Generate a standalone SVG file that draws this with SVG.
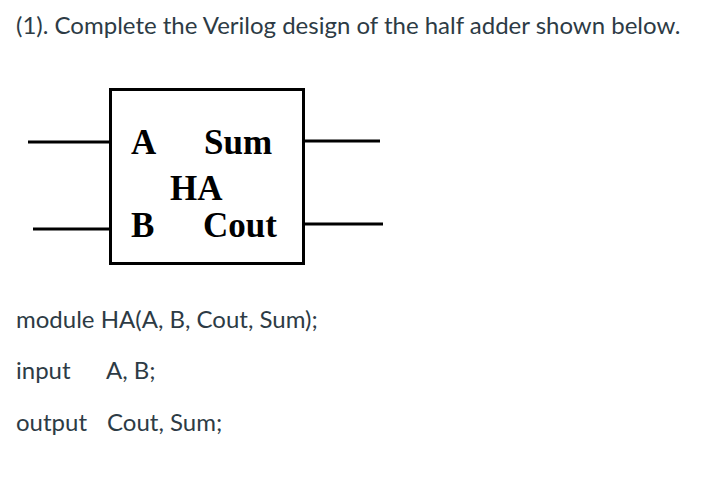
<svg xmlns="http://www.w3.org/2000/svg" width="727" height="498" viewBox="0 0 727 498">
<style>
.t{font-family:Lato,"Liberation Sans",sans-serif;font-size:24px;fill:#2d3b45}
.s{font-family:"Liberation Serif",serif;font-weight:bold;font-size:35px;fill:#000}
.w{stroke:#000;stroke-width:3;fill:none}
</style>
<rect width="727" height="498" fill="#fff"/>
<text class="t" x="16" y="34" font-size="25">(1). Complete the Verilog design of the half adder shown below.</text>
<g id="connectors">
<line class="w" x1="28" y1="142" x2="109" y2="142"/>
<line class="w" x1="33" y1="229" x2="109" y2="229"/>
<line class="w" x1="305" y1="141" x2="380" y2="141"/>
<line class="w" x1="305" y1="224" x2="383" y2="224"/>
</g>
<g id="ha">
<rect class="w" x="110.5" y="89.5" width="193" height="174"/>
<text class="s" x="131" y="154">A</text>
<text class="s" x="204" y="154">Sum</text>
<text class="s" x="170" y="200">HA</text>
<text class="s" x="131" y="237">B</text>
<text class="s" x="203" y="237">Cout</text>
</g>
<text class="t" x="16" y="328">module HA(A, B, Cout, Sum);</text>
<text class="t" x="16" y="379">input</text>
<text class="t" x="106" y="379">A, B;</text>
<text class="t" x="16" y="431">output</text>
<text class="t" x="107" y="431">Cout, Sum;</text>
</svg>
